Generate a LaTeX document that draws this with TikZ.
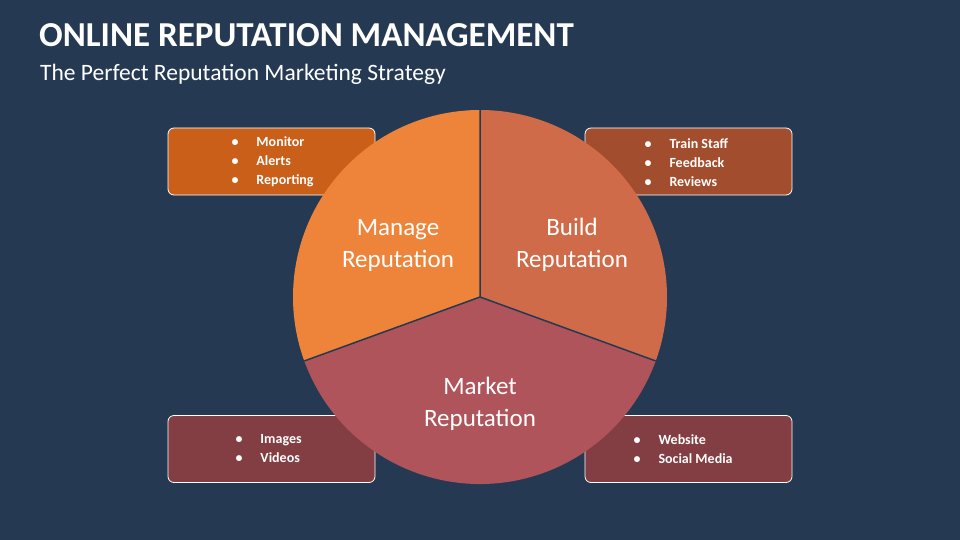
\documentclass[tikz,border=0pt]{standalone}
\usepackage{fontspec}
\setmainfont{Carlito}
\begin{document}
\begin{tikzpicture}[x=1pt,y=-1pt,
  box/.style={draw=white,line width=0.8pt,rounded corners=6pt,minimum width=207pt,minimum height=67pt,inner sep=0pt},
  lst/.style={text=white,font=\bfseries\fontsize{14}{19}\selectfont,align=left},
  big/.style={text=white,font=\fontsize{25}{32}\selectfont,align=center}]
\definecolor{bg}{HTML}{253A52}
\definecolor{cman}{HTML}{ED843A}
\definecolor{cbld}{HTML}{CF6B48}
\definecolor{cmkt}{HTML}{AF545A}
\definecolor{btl}{HTML}{C95F18}
\definecolor{btr}{HTML}{A24E2E}
\definecolor{bbt}{HTML}{833E43}
\fill[bg] (0,0) rectangle (960,540);
\node[anchor=west,text=white,font=\bfseries\fontsize{35}{40}\selectfont,inner sep=0] (title) at (39,35) {ONLINE REPUTATION MANAGEMENT};
\node[anchor=west,text=white,font=\fontsize{23.5}{28}\selectfont,inner sep=0] (sub) at (40,74) {The Perfect Reputation Marketing Strategy};
\node[box,fill=btl] (b1) at (271.5,161.5) {};
\node[box,fill=btr] (b2) at (688.5,161.5) {};
\node[box,fill=bbt] (b3) at (271.5,449) {};
\node[box,fill=bbt] (b4) at (688.5,449) {};
\node[lst,anchor=north west] (t1) at (228,133) {\textbullet\hspace{18pt}Monitor\\\textbullet\hspace{18pt}Alerts\\\textbullet\hspace{18pt}Reporting};
\node[lst,anchor=north west] (t2) at (641,135) {\textbullet\hspace{18pt}Train Staff\\\textbullet\hspace{18pt}Feedback\\\textbullet\hspace{18pt}Reviews};
\node[lst,anchor=north west] (t3) at (232,431) {\textbullet\hspace{18pt}Images\\\textbullet\hspace{18pt}Videos};
\node[lst,anchor=north west] (t4) at (630,431) {\textbullet\hspace{18pt}Website\\\textbullet\hspace{18pt}Social Media};
\coordinate (c) at (480,297);
\fill[cman] (c) -- ++(90:-187) arc[start angle=-90,end angle=-200,radius=187] -- cycle;
\fill[cbld] (c) -- ++(-90:187) arc[start angle=-90,end angle=20,radius=187] -- cycle;
\fill[cmkt] (c) -- ++(-200:187) arc[start angle=160,end angle=20,radius=187] -- cycle;
\draw[bg,line width=1.5pt] (c) -- ++(0,-187) (c) -- ++(-200:187) (c) -- ++(20:187);
\node[big] (m) at (398,245) {Manage\\Reputation};
\node[big] (b) at (572,245) {Build\\Reputation};
\node[big] (k) at (480,404) {Market\\Reputation};
\end{tikzpicture}
\end{document}
